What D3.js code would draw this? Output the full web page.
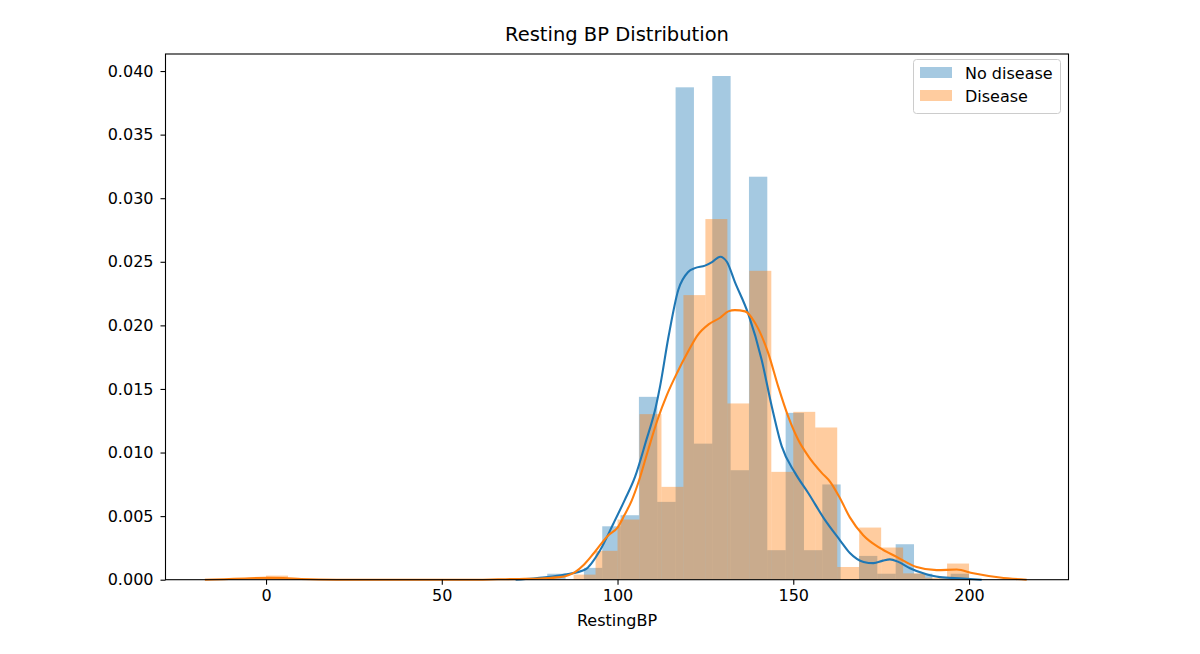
<!DOCTYPE html>
<html>
<head>
<meta charset="utf-8">
<script src="https://cdn.jsdelivr.net/npm/d3@7"></script>
<style>
  body { margin: 0; background: #fff; }
  svg text { font-family: "DejaVu Sans", sans-serif; fill: #000; }
</style>
</head>
<body>
<div id="chart"></div>
<script>
// histogram densities, bins spread evenly over the range
const noDiseaseRange = [80, 200];
const noDiseaseHist = [0.00047, 0, 0.00093, 0.0042, 0.00507, 0.01438, 0.00612, 0.03872,
  0.0107, 0.03961, 0.00861, 0.03169, 0.00232, 0.01312, 0.00232, 0.00749, 0,
  0.00187, 0.00047, 0.00279, 0.00047, 0, 0.00047];

const diseaseRange = [0, 200];
const diseaseHist = [0.00032, 0, 0, 0, 0, 0, 0, 0, 0, 0, 0, 0, 0, 0,
  0.0004, 0.00227, 0.00473, 0.01302, 0.0073, 0.02238, 0.02836, 0.01386,
  0.02429, 0.00848, 0.0132, 0.01197, 0.001, 0.0041, 0.00253, 0.0005, 0.00016, 0.00127];

// kde curves, [RestingBP, density]
const noDiseaseKde = [[71, 0], [76, 0.0001], [80, 0.0002], [85, 0.0004], [90.8, 0.0008],
  [95, 0.0023], [98.8, 0.0044], [102.1, 0.0063], [105, 0.0081], [108, 0.0108],
  [110.9, 0.0136], [112.1, 0.0152], [114.5, 0.0191], [117.3, 0.0228], [120.1, 0.0242],
  [122, 0.0245], [124.9, 0.0247], [127, 0.025], [129.2, 0.0254], [131.1, 0.025],
  [133.4, 0.0234], [137.2, 0.0209], [141, 0.0173], [143.9, 0.0136], [146.7, 0.0105],
  [150.5, 0.0084], [154.3, 0.0068], [159, 0.0047], [163.3, 0.0031], [166.1, 0.0021],
  [170, 0.0014], [172.8, 0.0013], [175.5, 0.0015], [177.5, 0.0016], [179.9, 0.0014],
  [183.2, 0.0009], [187, 0.0005], [191.7, 0.0002], [198.3, 0.0001], [203.6, 0]];

const diseaseKde = [[-17.4, 0], [-12, 0.00004], [-6, 0.0001], [0, 0.00014], [5, 0.00012],
  [10, 0.00005], [15, 0.00001], [20, 0], [60, 0], [66, 0.00003], [72, 0.00006],
  [78, 0.0001], [83.6, 0.0002], [87.9, 0.0006], [90.5, 0.0012], [93.3, 0.0021],
  [97.4, 0.0035], [100, 0.0041], [102, 0.0051], [104, 0.0062], [106, 0.0077],
  [108.5, 0.01], [111.4, 0.0126], [114, 0.0145], [117, 0.0163], [120, 0.0179],
  [122.7, 0.0192], [126, 0.0201], [129.2, 0.0206], [131.5, 0.0211], [133.4, 0.0212],
  [136.3, 0.0211], [139.1, 0.0202], [142.9, 0.0178], [145.7, 0.0152], [148.6, 0.0128],
  [151.4, 0.011], [154.3, 0.0097], [158.1, 0.0084], [160.5, 0.0077], [163.3, 0.0064],
  [166.1, 0.0049], [169.9, 0.0035], [174.6, 0.0025], [179.4, 0.0018], [185.1, 0.001],
  [190.8, 0.00075], [196.5, 0.0008], [201.2, 0.0005], [208.8, 0.00017], [216.4, 0]];

const xTicks = [0, 50, 100, 150, 200];
const yTicks = [0, 0.005, 0.01, 0.015, 0.02, 0.025, 0.03, 0.035, 0.04];
const seriesNames = ['No disease', 'Disease'];

const width = 1200;
const height = 654;
const margin = {top: 54, right: 131.5, bottom: 74.3, left: 165.5};
const blue = '#1f77b4';
const orange = '#ff7f0e';
const fontSize = '16px';

const svg = d3.select('#chart').append('svg')
  .attr('width', width)
  .attr('height', height);

const xScale = d3.scaleLinear()
  .domain([-28.6, 228.3])
  .range([margin.left, width - margin.right]);

const yScale = d3.scaleLinear()
  .domain([0, 0.04134])
  .range([height - margin.bottom, margin.top]);

function drawHist(values, range, color) {
  const w = (range[1] - range[0]) / values.length;
  svg.append('g')
    .selectAll('rect')
    .data(values)
    .enter().append('rect')
    .attr('x', (d, i) => xScale(range[0] + i * w))
    .attr('width', xScale(w) - xScale(0))
    .attr('y', d => yScale(d))
    .attr('height', d => yScale(0) - yScale(d))
    .attr('fill', color)
    .attr('fill-opacity', 0.4);
}

const line = d3.line()
  .x(d => xScale(d[0]))
  .y(d => yScale(d[1]))
  .curve(d3.curveMonotoneX);

function drawKde(points, color) {
  svg.append('path')
    .datum(points)
    .attr('d', line)
    .attr('fill', 'none')
    .attr('stroke', color)
    .attr('stroke-width', 2.1);
}

// patches sit below lines, as in matplotlib
drawHist(noDiseaseHist, noDiseaseRange, blue);
drawHist(diseaseHist, diseaseRange, orange);
drawKde(noDiseaseKde, blue);
drawKde(diseaseKde, orange);

// axes
const xAxis = d3.axisBottom(xScale).tickValues(xTicks).tickSize(5).tickPadding(5);
const yAxis = d3.axisLeft(yScale).tickValues(yTicks).tickSize(5).tickPadding(7)
  .tickFormat(d3.format('.3f'));

const xAxisG = svg.append('g')
  .attr('transform', `translate(0, ${height - margin.bottom})`)
  .call(xAxis);
const yAxisG = svg.append('g')
  .attr('transform', `translate(${margin.left}, 0)`)
  .call(yAxis);

[xAxisG, yAxisG].forEach(g => {
  g.select('.domain').remove();
  g.selectAll('line').attr('stroke', '#000').attr('stroke-width', 1.1);
  g.selectAll('text').style('font-size', fontSize).attr('fill', '#000');
});

// frame
svg.append('rect')
  .attr('x', margin.left)
  .attr('y', margin.top)
  .attr('width', width - margin.left - margin.right)
  .attr('height', height - margin.top - margin.bottom)
  .attr('fill', 'none')
  .attr('stroke', '#000')
  .attr('stroke-width', 1.1);

svg.append('text')
  .attr('x', (margin.left + width - margin.right) / 2)
  .attr('y', 41)
  .attr('text-anchor', 'middle')
  .style('font-size', '19.5px')
  .text('Resting BP Distribution');

svg.append('text')
  .attr('x', (margin.left + width - margin.right) / 2)
  .attr('y', 626)
  .attr('text-anchor', 'middle')
  .style('font-size', fontSize)
  .text('RestingBP');

// legend
const legend = svg.append('g').attr('class', 'legend');
legend.append('rect')
  .attr('x', 913.5)
  .attr('y', 59.5)
  .attr('width', 147)
  .attr('height', 54)
  .attr('rx', 3)
  .attr('fill', '#fff')
  .attr('fill-opacity', 0.8)
  .attr('stroke', '#ccc');

[blue, orange].forEach((c, i) => {
  legend.append('rect')
    .attr('x', 920)
    .attr('y', 67 + i * 23)
    .attr('width', 32)
    .attr('height', 11)
    .attr('fill', c)
    .attr('fill-opacity', 0.4);
  legend.append('text')
    .attr('x', 965)
    .attr('y', 78.5 + i * 23)
    .style('font-size', fontSize)
    .text(seriesNames[i]);
});
</script>
</body>
</html>
